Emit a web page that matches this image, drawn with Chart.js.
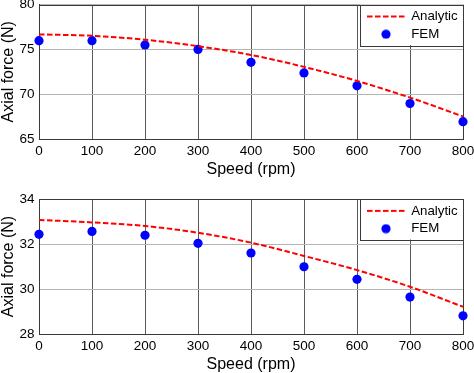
<!DOCTYPE html>
<html>
<head>
<meta charset="utf-8">
<script src="https://cdn.jsdelivr.net/npm/chart.js@4.4.1/dist/chart.umd.min.js"></script>
<style>
  html, body { margin: 0; padding: 0; background: #fff; overflow: hidden; width: 474px; height: 373px; }
  .wrap { position: absolute; left: 0; width: 474px; }
  #w1 { top: 0; height: 186px; }
  #w2 { top: 186px; height: 195px; }
</style>
</head>
<body>
<div class="wrap" id="w1"><canvas id="c1" width="474" height="186"></canvas></div>
<div class="wrap" id="w2"><canvas id="c2" width="474" height="195"></canvas></div>
<script>
// ---- data ----
const speeds = [0, 100, 200, 300, 400, 500, 600, 700, 800];
const topAnalytic = [76.67, 76.52, 76.08, 75.36, 74.38, 73.05, 71.48, 69.62, 67.52];
const topFEM      = [75.97, 75.97, 75.50, 75.00, 73.56, 72.37, 70.93, 68.96, 66.93];
const botAnalytic = [33.07, 32.96, 32.80, 32.50, 32.06, 31.47, 30.84, 30.10, 29.21];
const botFEM      = [32.43, 32.56, 32.39, 32.03, 31.60, 30.99, 30.43, 29.64, 28.81];
const topYTicks = [65, 70, 75, 80];
const botYTicks = [28, 30, 32, 34];
const xTicks = [0, 100, 200, 300, 400, 500, 600, 700, 800];
const seriesNames = ['Analytic', 'FEM'];

const FONT = "'Liberation Sans', Arial, Helvetica, sans-serif";

function lineImg() {
  const c = document.createElement('canvas');
  c.width = 38; c.height = 4;
  const g = c.getContext('2d');
  g.strokeStyle = '#ff0000'; g.lineWidth = 2; g.setLineDash([5.5, 2.5]);
  g.beginPath(); g.moveTo(0, 2); g.lineTo(38, 2); g.stroke();
  return c;
}
function dotImg() {
  const c = document.createElement('canvas');
  c.width = 10; c.height = 10;
  const g = c.getContext('2d');
  g.fillStyle = '#0000ff';
  g.beginPath(); g.arc(5, 5, 4.6, 0, Math.PI * 2); g.fill();
  return c;
}
const LIMG = lineImg(), DIMG = dotImg();

const legendBoxPlugin = {
  id: 'legendBox',
  beforeDraw(chart) {
    const lg = chart.legend; const ca = chart.chartArea;
    const bx = { l: ca.right - 103, t: ca.top, r: ca.right, b: ca.top + 40.5 };
    chart.$bx = bx;
    lg.left = bx.l + 3; lg.top = bx.t + 0.7;
    lg.right = bx.r; lg.bottom = bx.b + 40;
    lg.width = lg.right - lg.left; lg.height = lg.bottom - lg.top;
  },
  beforeDatasetsDraw(chart) {
    const ctx = chart.ctx; const bx = chart.$bx; const ca = chart.chartArea;
    ctx.save();
    ctx.strokeStyle = '#3a3a3a'; ctx.lineWidth = 1;
    ctx.strokeRect(Math.round(ca.left) + 0.5, Math.round(ca.top) + 0.5,
                   Math.round(ca.right - ca.left), Math.round(ca.bottom - ca.top));
    ctx.fillStyle = '#ffffff';
    ctx.fillRect(bx.l, bx.t, bx.r - bx.l, bx.b - bx.t);
    ctx.strokeStyle = '#3a3a3a';
    ctx.strokeRect(Math.round(bx.l) + 0.5, Math.round(bx.t) + 0.5,
                   Math.round(bx.r - bx.l), Math.round(bx.b - bx.t));
    ctx.restore();
    chart.legend.draw();
  }
};

function makeChart(id, analytic, fem, ymin, ymax, ticks, padTop) {
  const H = document.getElementById(id).height;
  return new Chart(document.getElementById(id), {
    type: 'line',
    data: {
      datasets: [
        {
          label: seriesNames[0],
          data: speeds.map((s, i) => ({ x: s, y: analytic[i] })),
          borderColor: '#ff0000', borderWidth: 2, borderDash: [5.5, 2.5],
          pointRadius: 0, fill: false, cubicInterpolationMode: 'monotone', clip: false
        },
        {
          label: seriesNames[1],
          data: speeds.map((s, i) => ({ x: s, y: fem[i] })),
          showLine: false, pointRadius: 4.6, pointStyle: 'circle',
          pointBackgroundColor: '#0000ff', pointBorderWidth: 0, borderColor: '#0000ff',
          clip: false
        }
      ]
    },
    options: {
      responsive: false, animation: false, devicePixelRatio: 1,
      layout: { padding: { top: padTop, right: 11, bottom: 0, left: 0 } },
      plugins: {
        tooltip: { enabled: false },
        legend: {
          position: 'chartArea', align: 'start',
          labels: {
            usePointStyle: true, pointStyleWidth: 37, boxHeight: 13, padding: 4.5,
            color: '#000', font: { family: FONT, size: 13.3 },
            generateLabels: (chart) => chart.data.datasets.map((ds, i) => ({
              text: ds.label, pointStyle: i === 0 ? LIMG : DIMG,
              fillStyle: '#fff', strokeStyle: '#fff', lineWidth: 0,
              hidden: false, datasetIndex: i, fontColor: '#000'
            }))
          }
        }
      },
      scales: {
        x: {
          type: 'linear', min: 0, max: 800,
          afterBuildTicks: s => { s.ticks = xTicks.map(v => ({ value: v })); },
          afterFit: s => { s.height = H - padTop - 135; s.paddingLeft = 0; s.paddingRight = 0; },
          grid: { color: '#5a5a5a', lineWidth: 1, drawTicks: false },
          border: { color: '#3a3a3a', width: 1 },
          ticks: { color: '#000', font: { family: FONT, size: 13.5 }, padding: 4, maxRotation: 0, autoSkip: false },
          title: { display: true, text: 'Speed (rpm)', color: '#000', font: { family: FONT, size: 16 }, padding: { top: 0, bottom: 6.4 } }
        },
        y: {
          min: ymin, max: ymax,
          afterBuildTicks: s => { s.ticks = ticks.map(v => ({ value: v })); },
          afterFit: s => { s.width = 39; s.paddingTop = 0; s.paddingBottom = 0; },
          grid: { color: '#b4b4b4', lineWidth: 1, drawTicks: false },
          border: { color: '#3a3a3a', width: 1 },
          ticks: { color: '#000', font: { family: FONT, size: 13.5 }, padding: 4.5 },
          title: { display: true, text: 'Axial force (N)', color: '#000', font: { family: FONT, size: 16 }, padding: { top: -1.5, bottom: 0 } }
        }
      }
    },
    plugins: [legendBoxPlugin]
  });
}

makeChart('c1', topAnalytic, topFEM, 65, 80, topYTicks, 4);
makeChart('c2', botAnalytic, botFEM, 28, 34, botYTicks, 13);
</script>
</body>
</html>
